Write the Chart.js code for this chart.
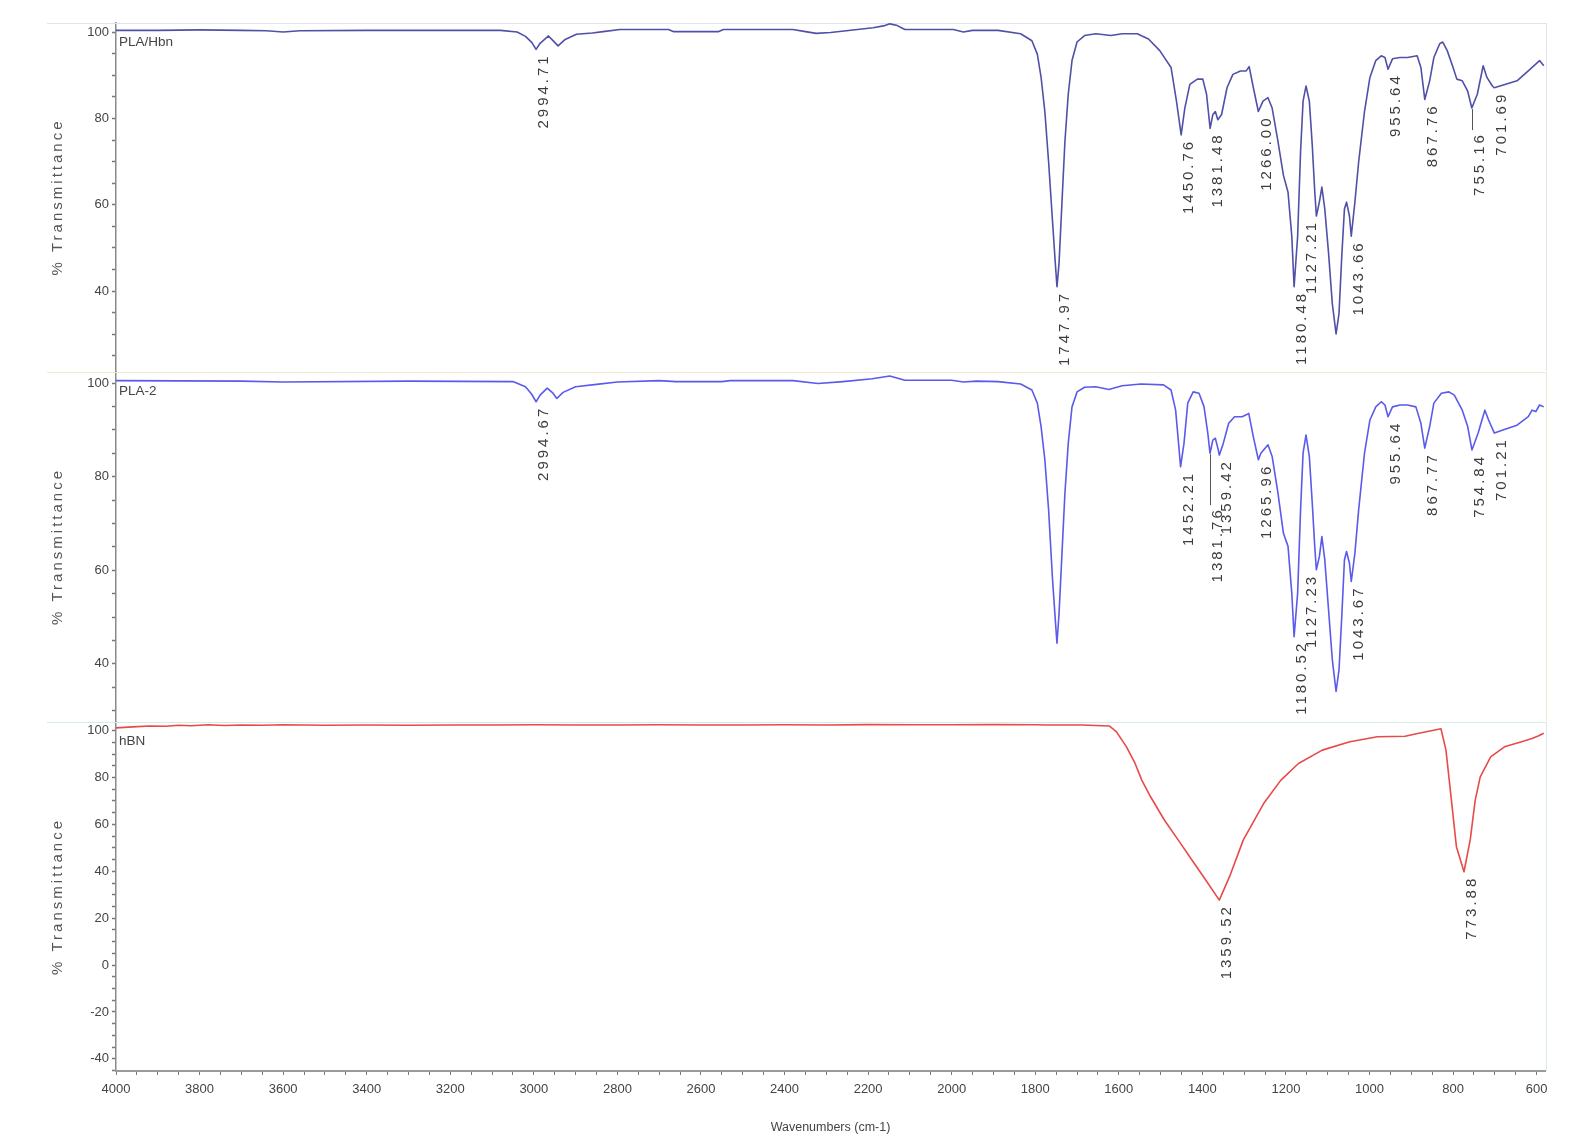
<!DOCTYPE html>
<html>
<head>
<meta charset="utf-8">
<title>FTIR PLA/Hbn, PLA-2, hBN</title>
<script src="https://cdn.jsdelivr.net/npm/chart.js@4.4.1/dist/chart.umd.min.js"></script>
<style>
  html, body { margin: 0; padding: 0; background: #fff; }
  #wrap { position: relative; width: 1589px; height: 1147px; }
  #wrap canvas { position: absolute; left: 0; top: 0; }
</style>
</head>
<body>
<div id="wrap">
  <canvas id="c1" width="1589" height="1147"></canvas>
  <canvas id="c2" width="1589" height="1147"></canvas>
  <canvas id="c3" width="1589" height="1147"></canvas>
</div>
<script>
// Wellenzahlen (cm-1) und % Transmission

// PLA/Hbn (oben)
const plaHbnWn = [4000, 3900, 3800, 3700, 3640, 3600, 3560, 3400, 3200, 3080, 3040, 3020, 3005, 2994.71, 2985, 2965, 2953, 2942, 2925, 2898, 2860, 2834, 2794, 2678, 2665, 2559, 2546, 2380, 2350, 2324, 2290, 2252, 2188, 2160, 2148, 2130, 2112, 1996, 1972, 1950, 1889,
  1835, 1808, 1795, 1786, 1777, 1768, 1759, 1752, 1747.97, 1743, 1736, 1729, 1721, 1712, 1700, 1682, 1655, 1619, 1592, 1556, 1529, 1502, 1475, 1462, 1450.76, 1442, 1430, 1412, 1399, 1390, 1381.48, 1375, 1369, 1363, 1354, 1341, 1327, 1309, 1295, 1288, 1278, 1266.00, 1255, 1243, 1233, 1219, 1206, 1195, 1186, 1180.48, 1172, 1165, 1159, 1152, 1144, 1137, 1131, 1127.21, 1120, 1114, 1107, 1098, 1089, 1080, 1073, 1066, 1060, 1055, 1048, 1043.66, 1035, 1026, 1012, 999, 985, 972, 963, 955.64, 945, 927, 909, 886, 877, 867.76, 856, 846, 832, 825, 814, 800, 791, 778, 765, 755.16, 742, 728, 719, 706, 701.69, 674, 647, 620, 593, 583];
const plaHbnT = [100.4, 100.4, 100.5, 100.4, 100.3, 100.0, 100.3, 100.4, 100.4, 100.4, 100.0, 99.0, 97.6, 96.0, 97.4, 99.1, 97.9, 96.8, 98.3, 99.5, 99.8, 100.1, 100.6, 100.6, 100.1, 100.1, 100.6, 100.6, 100.1, 99.7, 99.9, 100.3, 101.0, 101.5, 101.9, 101.5, 100.6, 100.6, 100.0, 100.4, 100.4,
  99.6, 98.0, 94.9, 89.5, 81.6, 69.9, 56.7, 46.5, 41.0, 46.5, 60.6, 74.6, 85.6, 93.4, 97.7, 99.2, 99.6, 99.2, 99.6, 99.6, 98.4, 95.7, 91.8, 84.0, 76.2, 82.4, 87.9, 89.1, 89.1, 85.6, 77.7, 80.9, 81.6, 79.7, 80.9, 87.1, 90.2, 91.0, 91.0, 92.0, 87.1, 81.6, 84.0, 84.8, 82.4, 74.6, 66.8, 62.9, 52.7, 41.0, 52.7, 72.3, 84.0, 87.5, 84.0, 73.8, 63.0, 57.4, 60.6, 64.1, 59.0, 48.8, 37.1, 30.1, 34.8, 48.8, 59.0, 60.6, 57.4, 52.7, 60.6, 69.9, 81.6, 89.5, 93.4, 94.5, 94.1, 91.4, 93.8, 94.1, 94.1, 94.5, 91.8, 84.4, 88.7, 94.1, 97.3, 97.7, 95.7, 91.8, 89.1, 88.7, 86.3, 82.4, 85.6, 92.2, 89.5, 87.5, 87.1, 87.9, 88.7, 91.0, 93.4, 92.2];
const plaHbnPeaks = [2994.71, 1747.97, 1450.76, 1381.48, 1266.00, 1180.48, 1127.21, 1043.66, 955.64, 867.76, 755.16, 701.69];

// PLA-2 (Mitte)
const pla2Wn = [4000, 3700, 3600, 3300, 3050, 3020, 3005, 2994.67, 2985, 2968, 2955, 2945, 2930, 2900, 2850, 2800, 2700, 2660, 2550, 2530, 2380, 2320, 2260, 2190, 2148, 2112, 2000, 1972, 1940, 1889,
  1835, 1808, 1795, 1786, 1777, 1768, 1759, 1752, 1748, 1743, 1736, 1729, 1721, 1712, 1700, 1682, 1655, 1624, 1592, 1547, 1493, 1475, 1464, 1457, 1452.21, 1444, 1435, 1422, 1408, 1396, 1387, 1381.76, 1375, 1369, 1363, 1359.42, 1350, 1337, 1323, 1305, 1295, 1289, 1278, 1265.96, 1260, 1243, 1233, 1219, 1206, 1195, 1186, 1180.52, 1172, 1165, 1159, 1152, 1144, 1137, 1131, 1127.23, 1120, 1114, 1107, 1098, 1089, 1080, 1073, 1066, 1060, 1055, 1048, 1043.67, 1035, 1026, 1012, 999, 985, 972, 963, 955.64, 945, 927, 909, 889, 877, 867.77, 856, 846, 828, 810, 797, 778, 765, 754.84, 740, 724, 715, 701.21, 679, 647, 620, 611, 602, 593, 583];
const pla2T = [100.5, 100.4, 100.2, 100.4, 100.3, 99.2, 97.6, 96.0, 97.4, 98.9, 97.9, 96.7, 98.0, 99.2, 99.7, 100.2, 100.5, 100.3, 100.3, 100.5, 100.5, 99.9, 100.3, 100.9, 101.5, 100.6, 100.6, 100.2, 100.4, 100.3,
  99.8, 98.5, 95.7, 90.7, 83.6, 72.9, 58.6, 49.4, 44.4, 50.8, 63.6, 76.4, 87.1, 94.9, 98.1, 99.1, 99.2, 98.6, 99.4, 99.8, 99.6, 98.5, 94.2, 87.1, 82.1, 87.1, 95.7, 98.1, 97.8, 94.9, 89.3, 85.0, 87.8, 88.2, 86.1, 84.6, 87.1, 91.4, 92.8, 92.8, 93.2, 93.5, 88.5, 83.6, 85.0, 86.8, 84.3, 76.4, 67.9, 65.1, 55.1, 45.8, 55.1, 72.9, 85.0, 88.9, 84.3, 74.3, 65.0, 60.1, 62.9, 67.2, 62.2, 51.5, 40.9, 34.1, 38.7, 50.8, 62.2, 64.0, 61.5, 57.6, 63.6, 72.9, 85.0, 92.1, 94.9, 96.0, 95.3, 92.8, 94.9, 95.3, 95.3, 94.9, 91.4, 86.1, 90.7, 95.7, 97.8, 98.1, 97.4, 94.2, 90.7, 85.7, 89.3, 94.2, 92.1, 89.3, 90.0, 91.0, 92.8, 94.2, 93.9, 95.3, 94.9];
const pla2Peaks = [2994.67, 1452.21, 1381.76, 1359.42, 1265.96, 1180.52, 1127.23, 1043.67, 955.64, 867.77, 754.84, 701.21];

// hBN (unten)
const hbnWn = [4000, 3960, 3920, 3880, 3850, 3820, 3780, 3740, 3700, 3650, 3600, 3500, 3400, 3300, 3200, 3100, 3000, 2900, 2800, 2700, 2600, 2500, 2400, 2300, 2200, 2100, 2000, 1900, 1800, 1771, 1688, 1623, 1606, 1582, 1561, 1545, 1524, 1491, 1458, 1425, 1392, 1359.52, 1335, 1302, 1253, 1212, 1170, 1113, 1047, 981, 915, 882, 829, 817, 804, 792, 773.88, 759, 747, 735, 710, 677, 636, 611, 595, 583];
const hbnT = [101.2, 101.6, 102.0, 101.9, 102.3, 102.1, 102.5, 102.2, 102.4, 102.3, 102.5, 102.3, 102.4, 102.3, 102.4, 102.4, 102.5, 102.4, 102.4, 102.5, 102.4, 102.4, 102.5, 102.4, 102.6, 102.5, 102.5, 102.6, 102.5, 102.4, 102.4, 102.0, 99.6, 93.2, 86.0, 78.9, 71.8, 61.9, 53.4, 44.8, 36.3, 27.7, 37.7, 53.4, 69.0, 78.9, 86.0, 91.7, 95.3, 97.4, 97.6, 98.9, 100.8, 91.7, 70.4, 50.5, 39.8, 53.4, 70.4, 80.3, 88.8, 93.1, 95.3, 96.7, 97.8, 98.9];
const hbnPeaks = [1359.52, 773.88];

// Achsenbeschriftungen
const xTickLabels = [4000, 3800, 3600, 3400, 3200, 3000, 2800, 2600, 2400, 2200, 2000, 1800, 1600, 1400, 1200, 1000, 800, 600];
const yLabelsPla = [40, 60, 80, 100];
const yLabelsHbn = [-40, -20, 0, 20, 40, 60, 80, 100];

const narrow = "'Liberation Sans Narrow', 'Liberation Sans', sans-serif";
const wide = "'Liberation Sans', Arial, sans-serif";

// Buchstabenabstand nur fuer den Achsentitel (der vor den Daten gezeichnet wird)
const spacingPlugin = {
  id: 'spacing',
  beforeDraw(chart) { chart.ctx.letterSpacing = '3px'; },
  beforeDatasetsDraw(chart) { chart.ctx.letterSpacing = '0px'; }
};

// Rahmen, Probenname und Peak-Beschriftungen
const panelPlugin = {
  id: 'panel',
  beforeDatasetsDraw(chart, args, o) {
    const ctx = chart.ctx, a = chart.chartArea;
    ctx.save();
    ctx.lineWidth = 1;
    ctx.strokeStyle = o.frame;
    ctx.beginPath();
    ctx.moveTo(47, a.top + 0.5);
    ctx.lineTo(a.right + 2, a.top + 0.5);
    ctx.moveTo(a.right + 1.5, a.top);
    ctx.lineTo(a.right + 1.5, a.bottom);
    ctx.stroke();
    ctx.fillStyle = '#444';
    ctx.font = '13.5px ' + narrow;
    ctx.textBaseline = 'middle';
    ctx.fillText(o.name, a.left + 3, a.top + 19);
    ctx.restore();
  },
  afterDatasetsDraw(chart, args, o) {
    const ctx = chart.ctx;
    const xs = chart.scales.x, ys = chart.scales.y;
    const pts = chart.data.datasets[0].data;
    ctx.save();
    ctx.font = '15px ' + wide;
    ctx.letterSpacing = '3px';
    ctx.fillStyle = '#3c3c3c';
    ctx.strokeStyle = '#555';
    ctx.lineWidth = 1;
    o.peaks.forEach(wn => {
      const p = pts.find(d => d.x === wn);
      const txt = wn.toFixed(2);
      const n = o.nudge[txt] || {};
      const px = xs.getPixelForValue(wn);
      const py = ys.getPixelForValue(p.y);
      let top = py + 4;
      if (n.lead) {
        ctx.beginPath();
        ctx.moveTo(Math.round(px) + 0.5, py + 1);
        ctx.lineTo(Math.round(px) + 0.5, py + n.lead);
        ctx.stroke();
        top = py + n.lead + 2;
      }
      ctx.save();
      ctx.translate(px + 8 + (n.dx || 0), top);
      ctx.rotate(-Math.PI / 2);
      ctx.textAlign = 'right';
      ctx.textBaseline = 'middle';
      ctx.fillText(txt, 0, 0);
      ctx.restore();
    });
    ctx.restore();
  }
};

function yAxis(min, max, labels) {
  return {
    min: min,
    max: max,
    afterFit(s) { s.width = 116; },
    border: { color: '#8a8a8a', width: 1.5 },
    grid: { drawOnChartArea: false, color: '#777', tickLength: 4, tickWidth: 1.5 },
    ticks: {
      stepSize: 5, autoSkip: false, includeBounds: false, z: 1, padding: 3,
      color: '#444', font: { family: narrow, size: 13 },
      callback: v => labels.includes(v) ? String(v) : ''
    },
    title: {
      display: true, text: '% Transmittance', color: '#555',
      font: { family: wide, size: 15 }, padding: { top: 49, bottom: 0 }
    }
  };
}

function makePanel(id, cfg) {
  const showX = !!cfg.showX;
  // Gitter, Rand und Titel der x-Achse erst nach den Daten zeichnen (z: 1)
  const xAxis = showX ? {
    type: 'linear', reverse: true, min: 580, max: 4000,
    afterFit(s) { s.height = 76; },
    border: { color: '#9a9a9a', width: 2, z: 1 },
    grid: { drawOnChartArea: false, color: '#777', tickLength: 4, z: 1 },
    ticks: {
      stepSize: 50, autoSkip: false, includeBounds: false, maxRotation: 0, z: 1, padding: 7,
      color: '#444', font: { family: narrow, size: 13 },
      callback: v => xTickLabels.includes(v) ? String(v) : ''
    },
    title: {
      display: true, text: 'Wavenumbers (cm-1)', color: '#444',
      font: { family: narrow, size: 12.5 }, padding: { top: 4, bottom: 12 }
    }
  } : { type: 'linear', reverse: true, min: 580, max: 4000, display: false };

  return new Chart(document.getElementById(id), {
    type: 'line',
    data: {
      datasets: [{
        label: cfg.name,
        data: cfg.wn.map((w, i) => ({ x: w, y: cfg.t[i] })),
        borderColor: cfg.color,
        borderWidth: 1.6,
        pointRadius: 0,
        tension: 0,
        borderJoinStyle: 'round',
        fill: false
      }]
    },
    options: {
      responsive: false,
      animation: false,
      devicePixelRatio: 1,
      layout: { padding: cfg.pad },
      scales: { x: xAxis, y: yAxis(cfg.ymin, cfg.ymax, cfg.ylabels) },
      plugins: {
        legend: { display: false },
        tooltip: { enabled: false },
        panel: { name: cfg.name, frame: cfg.frame, peaks: cfg.peaks, nudge: cfg.nudge }
      }
    },
    plugins: [spacingPlugin, panelPlugin]
  });
}

makePanel('c1', {
  name: 'PLA/Hbn', wn: plaHbnWn, t: plaHbnT, peaks: plaHbnPeaks, color: '#5050a8',
  ymin: 21.5, ymax: 102.1, ylabels: yLabelsPla, frame: '#e2e2ea',
  pad: { top: 23, bottom: 776, left: 0, right: 44 },
  nudge: { '1127.21': { dx: -12 }, '755.16': { lead: 22 } }
});

makePanel('c2', {
  name: 'PLA-2', wn: pla2Wn, t: pla2T, peaks: pla2Peaks, color: '#5a5aec',
  ymin: 27.8, ymax: 102.35, ylabels: yLabelsPla, frame: '#ecead2',
  pad: { top: 372, bottom: 426, left: 0, right: 44 },
  nudge: { '1127.23': { dx: -12 }, '1381.76': { lead: 52 } }
});

makePanel('c3', {
  name: 'hBN', wn: hbnWn, t: hbnT, peaks: hbnPeaks, color: '#e84a4a',
  ymin: -45.2, ymax: 103.7, ylabels: yLabelsHbn, frame: '#d6ebe6', showX: true,
  pad: { top: 722, bottom: 0, left: 0, right: 44 },
  nudge: {}
});
</script>
</body>
</html>
